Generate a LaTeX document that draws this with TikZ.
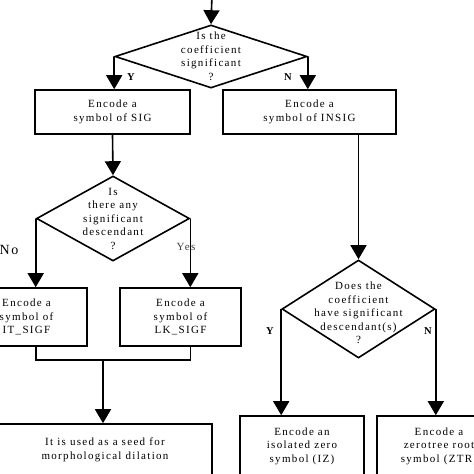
\documentclass[tikz,border=0pt]{standalone}
\usepackage{fontspec}
\newfontfamily\chartfont[LetterSpace=12]{Liberation Serif}
\usetikzlibrary{arrows.meta, shapes.geometric}

\begin{document}
\begin{tikzpicture}[
  x=1pt, y=-1pt,
  every node/.style={font=\chartfont\fontsize{11}{13.5}\selectfont, align=center, inner sep=0pt},
  box/.style={draw, rectangle, line width=1.6pt},
  decision/.style={draw, diamond, line width=1.6pt},
  tag/.style={font=\chartfont\fontsize{10.5}{12}\selectfont\bfseries},
  arr/.style={-{Triangle[length=14pt, width=16pt]}, line width=1.6pt},
  link/.style={line width=1.6pt}
]
  \useasboundingbox (0,0) rectangle (474,474);
  \clip (0,0) rectangle (474,474);

  % First test
  \coordinate (entry) at (212,-5);
  \node[decision, minimum width=192pt, minimum height=63pt,
        label={center:{Is the\\coefficient\\significant\\?}}] (coef) at (211,56.5) {};
  \node[box, minimum width=155pt, minimum height=44pt] (sig)   at (112.5,112) {Encode a\\symbol of SIG};
  \node[box, minimum width=173pt, minimum height=44pt] (insig) at (309.5,112) {Encode a\\symbol of INSIG};

  % Significant branch
  \node[decision, minimum width=153pt, minimum height=85pt,
        label={center:{Is\\there any\\significant\\descendant\\?}}] (desc) at (113,218.5) {};
  \node[box, minimum width=121pt, minimum height=58pt] (itsigf) at (26.5,317)  {Encode a\\symbol of\\IT\_SIGF};
  \node[box, minimum width=121pt, minimum height=58pt] (lksigf) at (180.5,317) {Encode a\\symbol of\\LK\_SIGF};
  \coordinate (join) at (103,360);
  \node[box, minimum width=214pt, minimum height=52pt] (seed) at (105,450) {It is used as a seed for\\morphological dilation};

  % Insignificant branch
  \node[decision, minimum width=153pt, minimum height=98pt,
        label={[yshift=-4pt]center:{Does the\\coefficient\\have significant\\descendant(s)\\?}}] (hasdesc) at (358.5,309) {};
  \node[box, minimum width=124pt, minimum height=60pt] (iz)  at (302,446) {Encode an\\isolated zero\\symbol (IZ)};
  \node[box, minimum width=124pt, minimum height=60pt] (ztr) at (439,446) {Encode a\\zerotree root\\symbol (ZTR)};

  % Branch labels
  \node[tag] (ylab)   at (131,77)  {Y};
  \node[tag] (nlab)   at (288,77)  {N};
  \node[font=\chartfont\fontsize{14}{16}\selectfont] (nolab) at (9,250) {No};
  \node[text=black!75] (yeslab) at (186,247) {Yes};
  \node[tag] (ylabb)  at (270,331) {Y};
  \node[tag] (nlabb)  at (428,331) {N};

  % Arrows
  \draw[arr] (entry) -- (coef.north);
  \draw[arr] (coef.west) -- (coef.west |- sig.north);
  \draw[arr] (coef.east) -- (coef.east |- insig.north);
  \draw[arr] (sig.south) -- (desc.north);
  \draw[arr] (desc.west) -- (desc.west |- itsigf.north);
  \draw[arr] (desc.east) -- (desc.east |- lksigf.north);
  \draw[link] (desc.west |- itsigf.south) |- (join) -| (desc.east |- lksigf.south);
  \draw[arr] (join) -- (join |- seed.north);
  \draw[arr] (hasdesc.north |- insig.south) -- (hasdesc.north);
  \draw[arr] (hasdesc.west) -- (hasdesc.west |- iz.north);
  \draw[arr] (hasdesc.east) -- (hasdesc.east |- ztr.north);
\end{tikzpicture}
\end{document}
